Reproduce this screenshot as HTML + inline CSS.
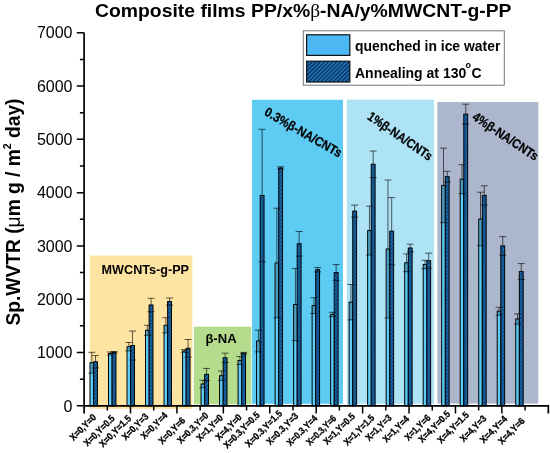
<!DOCTYPE html>
<html><head><meta charset="utf-8"><title>Composite films PP/x%β-NA/y%MWCNT-g-PP</title>
<style>html,body{margin:0;padding:0;background:#fff;}svg{display:block;}.ar{font-family:"Liberation Sans",Arial,sans-serif;}</style></head><body>
<svg width="550" height="453" viewBox="0 0 550 453">
<defs><pattern id="hatch" patternUnits="userSpaceOnUse" width="2.6" height="2.6" patternTransform="rotate(-45)"><rect width="2.6" height="2.6" fill="#1869ae"/><rect width="2.6" height="0.8" fill="#0b3560"/></pattern><pattern id="hatchL" patternUnits="userSpaceOnUse" width="2.9" height="2.9" patternTransform="rotate(-45)"><rect width="2.9" height="2.9" fill="#1b74c0"/><rect width="2.9" height="1.1" fill="#0a2440"/></pattern></defs>
<rect width="550" height="453" fill="#fff"/>
<rect x="89.8" y="255.5" width="102.5" height="153.3" fill="#fde4a2"/>
<rect x="193.8" y="326.7" width="57.5" height="77.5" fill="#b4dc8c"/>
<rect x="252.0" y="99.8" width="91.0" height="304.0" fill="#5ecbf3"/>
<rect x="346.8" y="99.6" width="87.2" height="304.2" fill="#aee3f6"/>
<rect x="437.4" y="102" width="100.9" height="301.6" fill="#acb6cd"/>
<text x="101.6" y="273.8" font-family="Liberation Sans, Arial, sans-serif" font-weight="bold" font-size="12.5" textLength="87.4" lengthAdjust="spacingAndGlyphs">MWCNTs-g-PP</text>
<text x="205.4" y="342.9" font-family="Liberation Sans, Arial, sans-serif" font-weight="bold" font-size="12.5" textLength="31.2" lengthAdjust="spacingAndGlyphs">β-NA</text>
<text transform="translate(263.6,114.6) rotate(29.9)" font-family="Liberation Sans, Arial, sans-serif" font-weight="bold" font-size="13" textLength="86.7" lengthAdjust="spacingAndGlyphs" stroke="#000" stroke-width="0.25">0.3%β-NA/CNTs</text>
<text transform="translate(366.6,118.5) rotate(34.4)" font-family="Liberation Sans, Arial, sans-serif" font-weight="bold" font-size="13" textLength="75.2" lengthAdjust="spacingAndGlyphs" stroke="#000" stroke-width="0.25">1%β-NA/CNTs</text>
<text transform="translate(471.4,119.1) rotate(33.5)" font-family="Liberation Sans, Arial, sans-serif" font-weight="bold" font-size="13" textLength="76" lengthAdjust="spacingAndGlyphs" stroke="#000" stroke-width="0.25">4%β-NA/CNTs</text>
<rect x="90.00" y="362.70" width="3.6" height="43.10" fill="#5ccdf9" stroke="#000" stroke-width="1"/>
<rect x="90.50" y="362.70" width="2.60" height="10.40" fill="#26303a" opacity="0.3"/>
<rect x="93.60" y="361.80" width="3.85" height="44.00" fill="url(#hatch)" stroke="#000" stroke-width="1"/>
<rect x="108.51" y="353.50" width="3.6" height="52.30" fill="#5ccdf9" stroke="#000" stroke-width="1"/>
<rect x="109.01" y="353.50" width="2.60" height="1.50" fill="#26303a" opacity="0.3"/>
<rect x="112.11" y="352.30" width="3.85" height="53.50" fill="url(#hatch)" stroke="#000" stroke-width="1"/>
<rect x="127.02" y="346.70" width="3.6" height="59.10" fill="#5ccdf9" stroke="#000" stroke-width="1"/>
<rect x="127.52" y="346.70" width="2.60" height="4.20" fill="#26303a" opacity="0.3"/>
<rect x="130.62" y="345.50" width="3.85" height="60.30" fill="url(#hatch)" stroke="#000" stroke-width="1"/>
<rect x="145.53" y="330.30" width="3.6" height="75.50" fill="#5ccdf9" stroke="#000" stroke-width="1"/>
<rect x="146.03" y="330.30" width="2.60" height="5.00" fill="#26303a" opacity="0.3"/>
<rect x="149.13" y="305.00" width="3.85" height="100.80" fill="url(#hatch)" stroke="#000" stroke-width="1"/>
<rect x="164.04" y="325.30" width="3.6" height="80.50" fill="#5ccdf9" stroke="#000" stroke-width="1"/>
<rect x="164.54" y="325.30" width="2.60" height="7.60" fill="#26303a" opacity="0.3"/>
<rect x="167.64" y="301.50" width="3.85" height="104.30" fill="url(#hatch)" stroke="#000" stroke-width="1"/>
<rect x="182.55" y="351.00" width="3.6" height="54.80" fill="#5ccdf9" stroke="#000" stroke-width="1"/>
<rect x="183.05" y="351.00" width="2.60" height="1.40" fill="#26303a" opacity="0.3"/>
<rect x="186.15" y="348.30" width="3.85" height="57.50" fill="url(#hatch)" stroke="#000" stroke-width="1"/>
<rect x="201.06" y="384.00" width="3.6" height="21.80" fill="#5ccdf9" stroke="#000" stroke-width="1"/>
<rect x="201.56" y="384.00" width="2.60" height="3.70" fill="#26303a" opacity="0.3"/>
<rect x="204.66" y="374.40" width="3.85" height="31.40" fill="url(#hatch)" stroke="#000" stroke-width="1"/>
<rect x="219.57" y="375.70" width="3.6" height="30.10" fill="#5ccdf9" stroke="#000" stroke-width="1"/>
<rect x="220.07" y="375.70" width="2.60" height="4.70" fill="#26303a" opacity="0.3"/>
<rect x="223.17" y="357.80" width="3.85" height="48.00" fill="url(#hatch)" stroke="#000" stroke-width="1"/>
<rect x="238.08" y="360.50" width="3.6" height="45.30" fill="#5ccdf9" stroke="#000" stroke-width="1"/>
<rect x="238.58" y="360.50" width="2.60" height="4.00" fill="#26303a" opacity="0.3"/>
<rect x="241.68" y="353.20" width="3.85" height="52.60" fill="url(#hatch)" stroke="#000" stroke-width="1"/>
<rect x="256.59" y="341.00" width="3.6" height="64.80" fill="#5ccdf9" stroke="#000" stroke-width="1"/>
<rect x="257.09" y="341.00" width="2.60" height="10.90" fill="#26303a" opacity="0.3"/>
<rect x="260.19" y="195.50" width="3.85" height="210.30" fill="url(#hatch)" stroke="#000" stroke-width="1"/>
<rect x="275.10" y="263.00" width="3.6" height="142.80" fill="#5ccdf9" stroke="#000" stroke-width="1"/>
<rect x="275.60" y="263.00" width="2.60" height="54.80" fill="#26303a" opacity="0.3"/>
<rect x="278.70" y="168.00" width="3.85" height="237.80" fill="url(#hatch)" stroke="#000" stroke-width="1"/>
<rect x="293.61" y="304.50" width="3.6" height="101.30" fill="#5ccdf9" stroke="#000" stroke-width="1"/>
<rect x="294.11" y="304.50" width="2.60" height="36.10" fill="#26303a" opacity="0.3"/>
<rect x="297.21" y="243.80" width="3.85" height="162.00" fill="url(#hatch)" stroke="#000" stroke-width="1"/>
<rect x="312.12" y="305.60" width="3.6" height="100.20" fill="#5ccdf9" stroke="#000" stroke-width="1"/>
<rect x="312.62" y="305.60" width="2.60" height="7.90" fill="#26303a" opacity="0.3"/>
<rect x="315.72" y="269.70" width="3.85" height="136.10" fill="url(#hatch)" stroke="#000" stroke-width="1"/>
<rect x="330.63" y="314.50" width="3.6" height="91.30" fill="#5ccdf9" stroke="#000" stroke-width="1"/>
<rect x="331.13" y="314.50" width="2.60" height="2.20" fill="#26303a" opacity="0.3"/>
<rect x="334.23" y="272.50" width="3.85" height="133.30" fill="url(#hatch)" stroke="#000" stroke-width="1"/>
<rect x="349.14" y="302.20" width="3.6" height="103.60" fill="#5ccdf9" stroke="#000" stroke-width="1"/>
<rect x="349.64" y="302.20" width="2.60" height="17.70" fill="#26303a" opacity="0.3"/>
<rect x="352.74" y="211.10" width="3.85" height="194.70" fill="url(#hatch)" stroke="#000" stroke-width="1"/>
<rect x="367.65" y="230.60" width="3.6" height="175.20" fill="#5ccdf9" stroke="#000" stroke-width="1"/>
<rect x="368.15" y="230.60" width="2.60" height="24.40" fill="#26303a" opacity="0.3"/>
<rect x="371.25" y="164.30" width="3.85" height="241.50" fill="url(#hatch)" stroke="#000" stroke-width="1"/>
<rect x="386.16" y="249.00" width="3.6" height="156.80" fill="#5ccdf9" stroke="#000" stroke-width="1"/>
<rect x="386.66" y="249.00" width="2.60" height="69.00" fill="#26303a" opacity="0.3"/>
<rect x="389.76" y="231.20" width="3.85" height="174.60" fill="url(#hatch)" stroke="#000" stroke-width="1"/>
<rect x="404.67" y="262.80" width="3.6" height="143.00" fill="#5ccdf9" stroke="#000" stroke-width="1"/>
<rect x="405.17" y="262.80" width="2.60" height="8.90" fill="#26303a" opacity="0.3"/>
<rect x="408.27" y="248.00" width="3.85" height="157.80" fill="url(#hatch)" stroke="#000" stroke-width="1"/>
<rect x="423.18" y="264.50" width="3.6" height="141.30" fill="#5ccdf9" stroke="#000" stroke-width="1"/>
<rect x="423.68" y="264.50" width="2.60" height="4.20" fill="#26303a" opacity="0.3"/>
<rect x="426.78" y="260.70" width="3.85" height="145.10" fill="url(#hatch)" stroke="#000" stroke-width="1"/>
<rect x="441.69" y="185.40" width="3.6" height="220.40" fill="#5ccdf9" stroke="#000" stroke-width="1"/>
<rect x="442.19" y="185.40" width="2.60" height="37.30" fill="#26303a" opacity="0.3"/>
<rect x="445.29" y="176.60" width="3.85" height="229.20" fill="url(#hatch)" stroke="#000" stroke-width="1"/>
<rect x="460.20" y="179.20" width="3.6" height="226.60" fill="#5ccdf9" stroke="#000" stroke-width="1"/>
<rect x="460.70" y="179.20" width="2.60" height="14.50" fill="#26303a" opacity="0.3"/>
<rect x="463.80" y="114.20" width="3.85" height="291.60" fill="url(#hatch)" stroke="#000" stroke-width="1"/>
<rect x="478.71" y="219.00" width="3.6" height="186.80" fill="#5ccdf9" stroke="#000" stroke-width="1"/>
<rect x="479.21" y="219.00" width="2.60" height="26.80" fill="#26303a" opacity="0.3"/>
<rect x="482.31" y="195.40" width="3.85" height="210.40" fill="url(#hatch)" stroke="#000" stroke-width="1"/>
<rect x="497.22" y="311.20" width="3.6" height="94.60" fill="#5ccdf9" stroke="#000" stroke-width="1"/>
<rect x="497.72" y="311.20" width="2.60" height="3.90" fill="#26303a" opacity="0.3"/>
<rect x="500.82" y="245.90" width="3.85" height="159.90" fill="url(#hatch)" stroke="#000" stroke-width="1"/>
<rect x="515.73" y="319.00" width="3.6" height="86.80" fill="#5ccdf9" stroke="#000" stroke-width="1"/>
<rect x="516.23" y="319.00" width="2.60" height="5.10" fill="#26303a" opacity="0.3"/>
<rect x="519.33" y="271.50" width="3.85" height="134.30" fill="url(#hatch)" stroke="#000" stroke-width="1"/>
<path d="M88.30 352.30H95.30M91.80 352.30V362.70M88.30 373.10H95.30" stroke="#000" stroke-opacity="0.62" stroke-width="1" fill="none"/>
<path d="M92.02 355.60H99.02M95.52 355.60V361.80M92.02 368.00H99.02" stroke="#000" stroke-opacity="0.62" stroke-width="1" fill="none"/>
<path d="M106.81 352.00H113.81M110.31 352.00V353.50M106.81 355.00H113.81" stroke="#000" stroke-opacity="0.62" stroke-width="1" fill="none"/>
<path d="M110.53 351.50H117.53M114.03 351.50V352.30M110.53 353.10H117.53" stroke="#000" stroke-opacity="0.62" stroke-width="1" fill="none"/>
<path d="M125.32 342.50H132.32M128.82 342.50V346.70M125.32 350.90H132.32" stroke="#000" stroke-opacity="0.62" stroke-width="1" fill="none"/>
<path d="M129.05 331.00H136.05M132.55 331.00V345.50M129.05 360.00H136.05" stroke="#000" stroke-opacity="0.62" stroke-width="1" fill="none"/>
<path d="M143.83 325.30H150.83M147.33 325.30V330.30M143.83 335.30H150.83" stroke="#000" stroke-opacity="0.62" stroke-width="1" fill="none"/>
<path d="M147.56 298.30H154.56M151.06 298.30V305.00M147.56 311.70H154.56" stroke="#000" stroke-opacity="0.62" stroke-width="1" fill="none"/>
<path d="M162.34 317.70H169.34M165.84 317.70V325.30M162.34 332.90H169.34" stroke="#000" stroke-opacity="0.62" stroke-width="1" fill="none"/>
<path d="M166.07 298.00H173.07M169.57 298.00V301.50M166.07 305.00H173.07" stroke="#000" stroke-opacity="0.62" stroke-width="1" fill="none"/>
<path d="M180.85 349.60H187.85M184.35 349.60V351.00M180.85 352.40H187.85" stroke="#000" stroke-opacity="0.62" stroke-width="1" fill="none"/>
<path d="M184.58 339.50H191.58M188.08 339.50V348.30M184.58 357.10H191.58" stroke="#000" stroke-opacity="0.62" stroke-width="1" fill="none"/>
<path d="M199.36 380.30H206.36M202.86 380.30V384.00M199.36 387.70H206.36" stroke="#000" stroke-opacity="0.62" stroke-width="1" fill="none"/>
<path d="M203.09 368.40H210.09M206.59 368.40V374.40M203.09 380.40H210.09" stroke="#000" stroke-opacity="0.62" stroke-width="1" fill="none"/>
<path d="M217.87 371.00H224.87M221.37 371.00V375.70M217.87 380.40H224.87" stroke="#000" stroke-opacity="0.62" stroke-width="1" fill="none"/>
<path d="M221.60 353.20H228.60M225.10 353.20V357.80M221.60 362.40H228.60" stroke="#000" stroke-opacity="0.62" stroke-width="1" fill="none"/>
<path d="M236.38 356.50H243.38M239.88 356.50V360.50M236.38 364.50H243.38" stroke="#000" stroke-opacity="0.62" stroke-width="1" fill="none"/>
<path d="M240.11 352.40H247.11M243.61 352.40V353.20M240.11 354.00H247.11" stroke="#000" stroke-opacity="0.62" stroke-width="1" fill="none"/>
<path d="M254.89 330.10H261.89M258.39 330.10V341.00M254.89 351.90H261.89" stroke="#000" stroke-opacity="0.62" stroke-width="1" fill="none"/>
<path d="M258.62 129.30H265.62M262.12 129.30V195.50M258.62 261.70H265.62" stroke="#000" stroke-opacity="0.62" stroke-width="1" fill="none"/>
<path d="M273.40 208.20H280.40M276.90 208.20V263.00M273.40 317.80H280.40" stroke="#000" stroke-opacity="0.62" stroke-width="1" fill="none"/>
<path d="M277.13 166.80H284.13M280.63 166.80V168.00M277.13 169.20H284.13" stroke="#000" stroke-opacity="0.62" stroke-width="1" fill="none"/>
<path d="M291.91 268.40H298.91M295.41 268.40V304.50M291.91 340.60H298.91" stroke="#000" stroke-opacity="0.62" stroke-width="1" fill="none"/>
<path d="M295.64 231.50H302.64M299.14 231.50V243.80M295.64 256.10H302.64" stroke="#000" stroke-opacity="0.62" stroke-width="1" fill="none"/>
<path d="M310.42 297.70H317.42M313.92 297.70V305.60M310.42 313.50H317.42" stroke="#000" stroke-opacity="0.62" stroke-width="1" fill="none"/>
<path d="M314.15 267.50H321.15M317.65 267.50V269.70M314.15 271.90H321.15" stroke="#000" stroke-opacity="0.62" stroke-width="1" fill="none"/>
<path d="M328.93 312.30H335.93M332.43 312.30V314.50M328.93 316.70H335.93" stroke="#000" stroke-opacity="0.62" stroke-width="1" fill="none"/>
<path d="M332.66 264.60H339.66M336.16 264.60V272.50M332.66 280.40H339.66" stroke="#000" stroke-opacity="0.62" stroke-width="1" fill="none"/>
<path d="M347.44 284.50H354.44M350.94 284.50V302.20M347.44 319.90H354.44" stroke="#000" stroke-opacity="0.62" stroke-width="1" fill="none"/>
<path d="M351.17 205.10H358.17M354.67 205.10V211.10M351.17 217.10H358.17" stroke="#000" stroke-opacity="0.62" stroke-width="1" fill="none"/>
<path d="M365.95 206.20H372.95M369.45 206.20V230.60M365.95 255.00H372.95" stroke="#000" stroke-opacity="0.62" stroke-width="1" fill="none"/>
<path d="M369.68 151.00H376.68M373.18 151.00V164.30M369.68 177.60H376.68" stroke="#000" stroke-opacity="0.62" stroke-width="1" fill="none"/>
<path d="M384.46 180.00H391.46M387.96 180.00V249.00M384.46 318.00H391.46" stroke="#000" stroke-opacity="0.62" stroke-width="1" fill="none"/>
<path d="M388.19 197.60H395.19M391.69 197.60V231.20M388.19 264.80H395.19" stroke="#000" stroke-opacity="0.62" stroke-width="1" fill="none"/>
<path d="M402.97 253.90H409.97M406.47 253.90V262.80M402.97 271.70H409.97" stroke="#000" stroke-opacity="0.62" stroke-width="1" fill="none"/>
<path d="M406.70 244.20H413.70M410.20 244.20V248.00M406.70 251.80H413.70" stroke="#000" stroke-opacity="0.62" stroke-width="1" fill="none"/>
<path d="M421.48 260.30H428.48M424.98 260.30V264.50M421.48 268.70H428.48" stroke="#000" stroke-opacity="0.62" stroke-width="1" fill="none"/>
<path d="M425.21 253.20H432.21M428.71 253.20V260.70M425.21 268.20H432.21" stroke="#000" stroke-opacity="0.62" stroke-width="1" fill="none"/>
<path d="M439.99 148.10H446.99M443.49 148.10V185.40M439.99 222.70H446.99" stroke="#000" stroke-opacity="0.62" stroke-width="1" fill="none"/>
<path d="M443.72 171.30H450.72M447.22 171.30V176.60M443.72 181.90H450.72" stroke="#000" stroke-opacity="0.62" stroke-width="1" fill="none"/>
<path d="M458.50 164.70H465.50M462.00 164.70V179.20M458.50 193.70H465.50" stroke="#000" stroke-opacity="0.62" stroke-width="1" fill="none"/>
<path d="M462.23 104.20H469.23M465.73 104.20V114.20M462.23 124.20H469.23" stroke="#000" stroke-opacity="0.62" stroke-width="1" fill="none"/>
<path d="M477.01 192.20H484.01M480.51 192.20V219.00M477.01 245.80H484.01" stroke="#000" stroke-opacity="0.62" stroke-width="1" fill="none"/>
<path d="M480.74 185.80H487.74M484.24 185.80V195.40M480.74 205.00H487.74" stroke="#000" stroke-opacity="0.62" stroke-width="1" fill="none"/>
<path d="M495.52 307.30H502.52M499.02 307.30V311.20M495.52 315.10H502.52" stroke="#000" stroke-opacity="0.62" stroke-width="1" fill="none"/>
<path d="M499.25 236.60H506.25M502.75 236.60V245.90M499.25 255.20H506.25" stroke="#000" stroke-opacity="0.62" stroke-width="1" fill="none"/>
<path d="M514.03 313.90H521.03M517.53 313.90V319.00M514.03 324.10H521.03" stroke="#000" stroke-opacity="0.62" stroke-width="1" fill="none"/>
<path d="M517.75 263.60H524.75M521.25 263.60V271.50M517.75 279.40H524.75" stroke="#000" stroke-opacity="0.62" stroke-width="1" fill="none"/>
<path d="M84.1 32.8V413.5M83.3 405.8H548.3V413.5" stroke="#000" stroke-width="1.7" fill="none"/>
<path d="M76.80 405.80H84.1M76.80 352.51H84.1M76.80 299.22H84.1M76.80 245.93H84.1M76.80 192.64H84.1M76.80 139.35H84.1M76.80 86.06H84.1M76.80 32.77H84.1M79.90 379.16H84.1M79.90 325.87H84.1M79.90 272.58H84.1M79.90 219.29H84.1M79.90 166.00H84.1M79.90 112.71H84.1M79.90 59.42H84.1M107.31 405.8V410.6M130.52 405.8V413.5M153.73 405.8V410.6M176.94 405.8V413.5M200.15 405.8V410.6M223.36 405.8V413.5M246.57 405.8V410.6M269.78 405.8V413.5M292.99 405.8V410.6M316.20 405.8V413.5M339.41 405.8V410.6M362.62 405.8V413.5M385.83 405.8V410.6M409.04 405.8V413.5M432.25 405.8V410.6M455.46 405.8V413.5M478.67 405.8V410.6M501.88 405.8V413.5M525.09 405.8V410.6" stroke="#000" stroke-width="1.5" fill="none"/>
<text x="72.5" y="411.50" text-anchor="end" font-family="Liberation Sans, Arial, sans-serif" font-size="16">0</text>
<text x="72.5" y="358.21" text-anchor="end" font-family="Liberation Sans, Arial, sans-serif" font-size="16">1000</text>
<text x="72.5" y="304.92" text-anchor="end" font-family="Liberation Sans, Arial, sans-serif" font-size="16">2000</text>
<text x="72.5" y="251.63" text-anchor="end" font-family="Liberation Sans, Arial, sans-serif" font-size="16">3000</text>
<text x="72.5" y="198.34" text-anchor="end" font-family="Liberation Sans, Arial, sans-serif" font-size="16">4000</text>
<text x="72.5" y="145.05" text-anchor="end" font-family="Liberation Sans, Arial, sans-serif" font-size="16">5000</text>
<text x="72.5" y="91.76" text-anchor="end" font-family="Liberation Sans, Arial, sans-serif" font-size="16">6000</text>
<text x="72.5" y="38.47" text-anchor="end" font-family="Liberation Sans, Arial, sans-serif" font-size="16">7000</text>
<text transform="translate(19.5,325.5) rotate(-90)" font-family="Liberation Sans, Arial, sans-serif" font-weight="bold" font-size="20" textLength="227" lengthAdjust="spacingAndGlyphs">Sp.WVTR (<tspan font-weight="normal">μ</tspan>m g / m<tspan font-size="11" dy="-8.5">2</tspan><tspan dy="8.5"> day)</tspan></text>
<text transform="translate(96.80,417.96) rotate(-45)" text-anchor="end" font-family="Liberation Sans, Arial, sans-serif" font-weight="bold" font-size="9.6" textLength="33.11" lengthAdjust="spacingAndGlyphs" stroke="#000" stroke-width="0.3">X=0,Y=0</text>
<text transform="translate(115.30,419.06) rotate(-45)" text-anchor="end" font-family="Liberation Sans, Arial, sans-serif" font-weight="bold" font-size="9.6" textLength="39.26" lengthAdjust="spacingAndGlyphs" stroke="#000" stroke-width="0.3">X=0,Y=0.5</text>
<text transform="translate(131.80,419.06) rotate(-45)" text-anchor="end" font-family="Liberation Sans, Arial, sans-serif" font-weight="bold" font-size="9.6" textLength="40.75" lengthAdjust="spacingAndGlyphs" stroke="#000" stroke-width="0.3">X=0,Y=1.5</text>
<text transform="translate(149.20,417.16) rotate(-45)" text-anchor="end" font-family="Liberation Sans, Arial, sans-serif" font-weight="bold" font-size="9.6" textLength="33.25" lengthAdjust="spacingAndGlyphs" stroke="#000" stroke-width="0.3">X=0,Y=3</text>
<text transform="translate(168.00,416.26) rotate(-45)" text-anchor="end" font-family="Liberation Sans, Arial, sans-serif" font-weight="bold" font-size="9.6" textLength="33.11" lengthAdjust="spacingAndGlyphs" stroke="#000" stroke-width="0.3">X=0,Y=4</text>
<text transform="translate(186.00,421.16) rotate(-45)" text-anchor="end" font-family="Liberation Sans, Arial, sans-serif" font-weight="bold" font-size="9.6" textLength="33.53" lengthAdjust="spacingAndGlyphs" stroke="#000" stroke-width="0.3">X=0,Y=6</text>
<text transform="translate(209.00,416.26) rotate(-45)" text-anchor="end" font-family="Liberation Sans, Arial, sans-serif" font-weight="bold" font-size="9.6" textLength="39.69" lengthAdjust="spacingAndGlyphs" stroke="#000" stroke-width="0.3">X=0.3,Y=0</text>
<text transform="translate(223.70,418.46) rotate(-45)" text-anchor="end" font-family="Liberation Sans, Arial, sans-serif" font-weight="bold" font-size="9.6" textLength="33.11" lengthAdjust="spacingAndGlyphs" stroke="#000" stroke-width="0.3">X=1,Y=0</text>
<text transform="translate(242.40,417.96) rotate(-45)" text-anchor="end" font-family="Liberation Sans, Arial, sans-serif" font-weight="bold" font-size="9.6" textLength="32.69" lengthAdjust="spacingAndGlyphs" stroke="#000" stroke-width="0.3">X=4,Y=0</text>
<text transform="translate(260.40,415.76) rotate(-45)" text-anchor="end" font-family="Liberation Sans, Arial, sans-serif" font-weight="bold" font-size="9.6" textLength="46.97" lengthAdjust="spacingAndGlyphs" stroke="#000" stroke-width="0.3">X=0.3,Y=0.5</text>
<text transform="translate(282.80,414.16) rotate(-45)" text-anchor="end" font-family="Liberation Sans, Arial, sans-serif" font-weight="bold" font-size="9.6" textLength="47.68" lengthAdjust="spacingAndGlyphs" stroke="#000" stroke-width="0.3">X=0.3,Y=1.5</text>
<text transform="translate(299.00,416.66) rotate(-45)" text-anchor="end" font-family="Liberation Sans, Arial, sans-serif" font-weight="bold" font-size="9.6" textLength="40.82" lengthAdjust="spacingAndGlyphs" stroke="#000" stroke-width="0.3">X=0.3,Y=3</text>
<text transform="translate(317.90,419.06) rotate(-45)" text-anchor="end" font-family="Liberation Sans, Arial, sans-serif" font-weight="bold" font-size="9.6" textLength="38.84" lengthAdjust="spacingAndGlyphs" stroke="#000" stroke-width="0.3">X=0.3,Y=4</text>
<text transform="translate(337.00,419.06) rotate(-45)" text-anchor="end" font-family="Liberation Sans, Arial, sans-serif" font-weight="bold" font-size="9.6" textLength="38.13" lengthAdjust="spacingAndGlyphs" stroke="#000" stroke-width="0.3">X=0.3,Y=6</text>
<text transform="translate(355.60,416.86) rotate(-45)" text-anchor="end" font-family="Liberation Sans, Arial, sans-serif" font-weight="bold" font-size="9.6" textLength="40.04" lengthAdjust="spacingAndGlyphs" stroke="#000" stroke-width="0.3">X=1,Y=0.5</text>
<text transform="translate(375.10,418.46) rotate(-45)" text-anchor="end" font-family="Liberation Sans, Arial, sans-serif" font-weight="bold" font-size="9.6" textLength="39.12" lengthAdjust="spacingAndGlyphs" stroke="#000" stroke-width="0.3">X=1,Y=1.5</text>
<text transform="translate(392.30,418.46) rotate(-45)" text-anchor="end" font-family="Liberation Sans, Arial, sans-serif" font-weight="bold" font-size="9.6" textLength="32.69" lengthAdjust="spacingAndGlyphs" stroke="#000" stroke-width="0.3">X=1,Y=3</text>
<text transform="translate(409.80,419.56) rotate(-45)" text-anchor="end" font-family="Liberation Sans, Arial, sans-serif" font-weight="bold" font-size="9.6" textLength="33.11" lengthAdjust="spacingAndGlyphs" stroke="#000" stroke-width="0.3">X=1,Y=4</text>
<text transform="translate(431.20,418.46) rotate(-45)" text-anchor="end" font-family="Liberation Sans, Arial, sans-serif" font-weight="bold" font-size="9.6" textLength="32.26" lengthAdjust="spacingAndGlyphs" stroke="#000" stroke-width="0.3">X=1,Y=6</text>
<text transform="translate(450.90,414.66) rotate(-45)" text-anchor="end" font-family="Liberation Sans, Arial, sans-serif" font-weight="bold" font-size="9.6" textLength="40.46" lengthAdjust="spacingAndGlyphs" stroke="#000" stroke-width="0.3">X=4,Y=0.5</text>
<text transform="translate(469.50,415.76) rotate(-45)" text-anchor="end" font-family="Liberation Sans, Arial, sans-serif" font-weight="bold" font-size="9.6" textLength="40.04" lengthAdjust="spacingAndGlyphs" stroke="#000" stroke-width="0.3">X=4,Y=1.5</text>
<text transform="translate(487.10,419.26) rotate(-45)" text-anchor="end" font-family="Liberation Sans, Arial, sans-serif" font-weight="bold" font-size="9.6" textLength="33.04" lengthAdjust="spacingAndGlyphs" stroke="#000" stroke-width="0.3">X=4,Y=3</text>
<text transform="translate(507.90,419.56) rotate(-45)" text-anchor="end" font-family="Liberation Sans, Arial, sans-serif" font-weight="bold" font-size="9.6" textLength="34.31" lengthAdjust="spacingAndGlyphs" stroke="#000" stroke-width="0.3">X=4,Y=4</text>
<text transform="translate(525.30,421.76) rotate(-45)" text-anchor="end" font-family="Liberation Sans, Arial, sans-serif" font-weight="bold" font-size="9.6" textLength="33.04" lengthAdjust="spacingAndGlyphs" stroke="#000" stroke-width="0.3">X=4,Y=6</text>
<text x="95.0" y="17" font-family="Liberation Sans, Arial, sans-serif" font-weight="bold" font-size="18" textLength="416.5" lengthAdjust="spacingAndGlyphs">Composite films PP/x%<tspan font-family="Liberation Serif, serif" font-weight="normal">β</tspan>-NA/y%MWCNT-g-PP</text>
<rect x="303.3" y="30.8" width="201" height="54.4" fill="#fff" stroke="#777" stroke-width="1"/>
<rect x="306.6" y="34.8" width="43.2" height="20.6" fill="#4cb8f4" stroke="#111" stroke-width="1.2"/>
<rect x="306.6" y="61.2" width="43.2" height="20.8" fill="url(#hatchL)" stroke="#111" stroke-width="1.2"/>
<text x="355.0" y="51.1" font-family="Liberation Sans, Arial, sans-serif" font-weight="bold" font-size="14" textLength="145.3" lengthAdjust="spacingAndGlyphs">quenched in ice water</text>
<text x="355.0" y="78.2" font-family="Liberation Sans, Arial, sans-serif" font-weight="bold" font-size="14">Annealing at 130<tspan font-size="9" dy="-10" dx="-0.8">o</tspan><tspan dy="10" dx="0.6">C</tspan></text>
</svg></body></html>
